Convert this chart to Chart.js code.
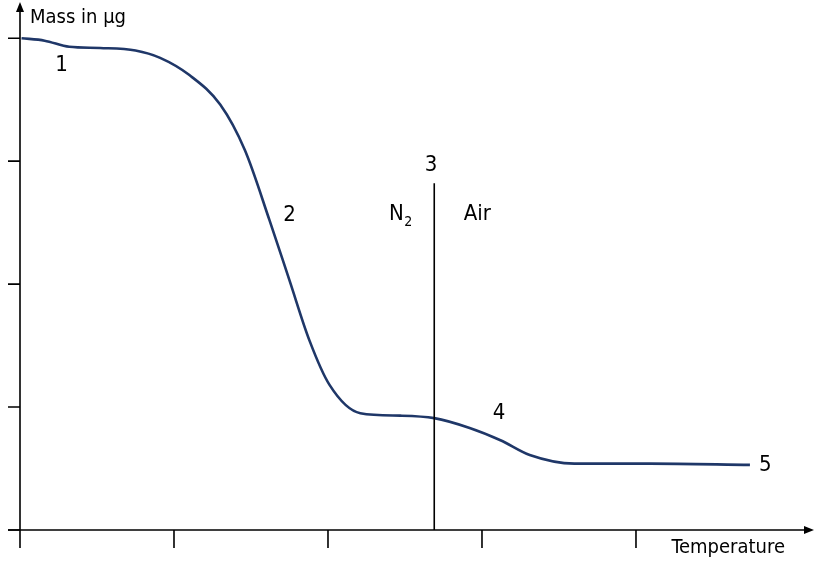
<!DOCTYPE html>
<html><head><meta charset="utf-8">
<script src="https://cdn.jsdelivr.net/npm/chart.js@4"></script>
<style>html,body{margin:0;padding:0;background:#fff}#w{width:815px;height:563px}</style>
</head><body><div id="w"><canvas id="c"></canvas></div>
<script>
const curveX=[0.01,0.16,0.32,0.52,0.75,0.91,1.10,1.30,1.46,1.62,1.75,1.88,2.01,2.21,2.47,2.69,2.92,3.12,3.31,3.60,4.09,4.74];
const curveY=[4.00,3.98,3.93,3.92,3.90,3.84,3.70,3.46,3.09,2.52,2.03,1.54,1.18,0.95,0.93,0.91,0.83,0.73,0.61,0.54,0.54,0.53];
const switchX=2.69, switchTop=2.82;
const xTicks=[0,1,2,3,4];
const yTicks=[0,1,2,3,4];
const labels=[
 {t:"1",x:0.27,y:3.78},{t:"2",x:1.75,y:2.56},{t:"3",x:2.67,y:2.97},
 {t:"Air",x:2.97,y:2.57},{t:"4",x:3.11,y:0.95},{t:"5",x:4.84,y:0.53}
];
const pts=curveX.map((x,i)=>({x,y:curveY[i]}));
const deco={id:'deco',afterDraw(ch){
 const c=ch.ctx,xs=ch.scales.x,ys=ch.scales.y;
 const X=v=>xs.getPixelForValue(v),Y=v=>ys.getPixelForValue(v);
 c.save();c.strokeStyle='#000';c.fillStyle='#000';c.lineWidth=1.6;
 const x0=X(0),y0=Y(0);
 c.beginPath();c.moveTo(x0,y0);c.lineTo(x0,6);c.moveTo(8,y0);c.lineTo(810,y0);c.stroke();
 c.beginPath();c.moveTo(x0,2);c.lineTo(x0-4,12);c.lineTo(x0+4,12);c.closePath();c.fill();
 c.beginPath();c.moveTo(814,y0);c.lineTo(804,y0-4);c.lineTo(804,y0+4);c.closePath();c.fill();
 c.beginPath();
 xTicks.forEach(v=>{c.moveTo(X(v),y0);c.lineTo(X(v),y0+18);});
 yTicks.forEach(v=>{c.moveTo(8,Y(v));c.lineTo(x0,Y(v));});
 c.moveTo(X(switchX),y0);c.lineTo(X(switchX),Y(switchTop));
 c.stroke();
 c.font='22px "DejaVu Sans Condensed", Roboto, sans-serif';c.textBaseline='middle';c.textAlign='center';
 labels.forEach(l=>c.fillText(l.t,X(l.x),Y(l.y)));
 const nx=X(2.47),ny=Y(2.57);
 c.fillText("N",nx-4,ny);c.font='14px "DejaVu Sans Condensed", Roboto, sans-serif';c.fillText("2",nx+8,ny+8);
 c.font='20px "DejaVu Sans Condensed", Roboto, sans-serif';c.textAlign='left';
 c.fillText("Mass in µg",30,18);
 c.textAlign='right';c.fillText("Temperature",785,548);
 c.restore();
}};
new Chart(document.getElementById('c'),{type:'scatter',
 data:{datasets:[{data:pts,showLine:true,borderColor:'#1f3768',borderWidth:2.6,pointRadius:0,tension:0.4,cubicInterpolationMode:'monotone'}]},
 options:{responsive:true,maintainAspectRatio:false,animation:false,
  layout:{padding:{left:20,right:5,top:5,bottom:33}},
  plugins:{legend:{display:false},tooltip:{enabled:false}},
  scales:{x:{type:'linear',min:0,max:5.13,display:false},y:{min:0,max:4.27,display:false}}},
 plugins:[deco]});
</script></body></html>
